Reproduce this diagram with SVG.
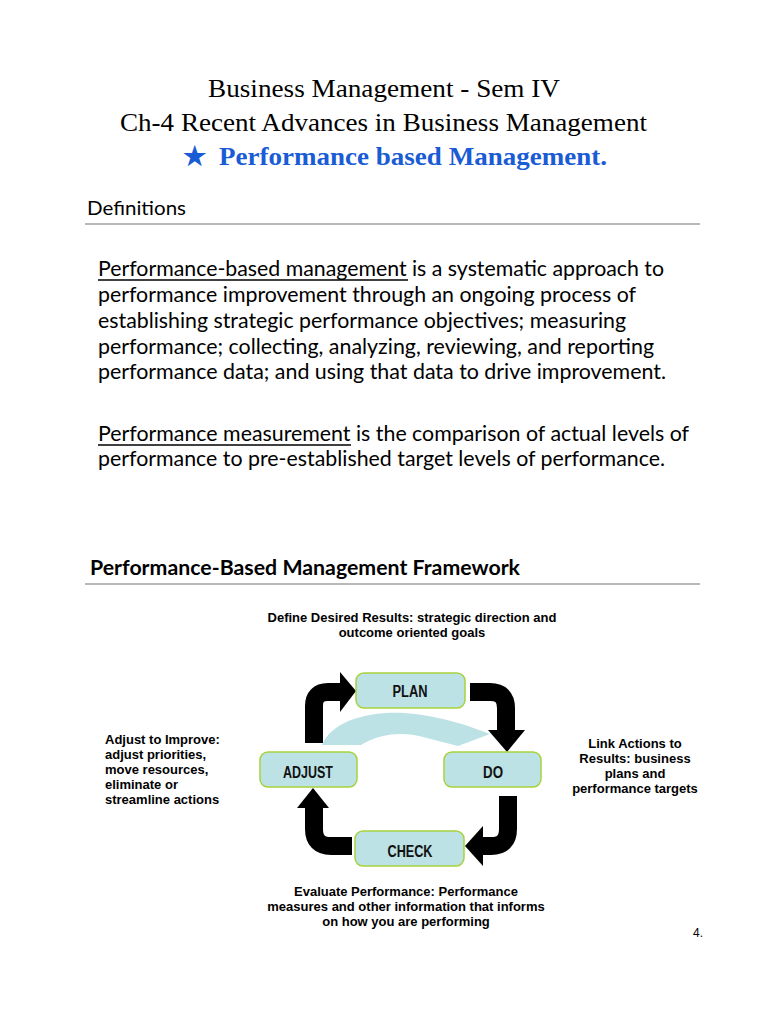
<svg xmlns="http://www.w3.org/2000/svg" width="768" height="1024" viewBox="0 0 768 1024">
<defs>
<style>
.title{font-family:"Liberation Serif","Times New Roman",serif;font-size:26px;fill:#000}
.blue{font-family:"Liberation Serif","Times New Roman",serif;font-size:26px;font-weight:bold;fill:#1a5bd6}
.body{font-family:Lato,"Open Sans",sans-serif;font-size:21px;fill:#000}
.head{font-family:Lato,"Open Sans",sans-serif;font-size:20px;fill:#000}
.headb{font-family:Lato,"Open Sans",sans-serif;font-size:20px;font-weight:bold;fill:#000}
.lbl{font-family:"Liberation Sans",Arial,sans-serif;font-size:13px;font-weight:bold;fill:#000}
.node rect{fill:#bce2e6;stroke:#a6d23c;stroke-width:1.5}
.node text{font-family:"Liberation Sans",Arial,sans-serif;font-size:16px;font-weight:bold;fill:#111;text-anchor:middle}
.arr{fill:none;stroke:#000;stroke-width:18}
.head-tri{fill:#000}
.rule{stroke:#a0a0a0;stroke-width:1.5}
</style>
</defs>
<rect width="768" height="1024" fill="#fff"/>

<g id="titles">
<text class="title" x="208" y="97" textLength="352" lengthAdjust="spacingAndGlyphs">Business Management - Sem IV</text>
<text class="title" x="120" y="131" textLength="527" lengthAdjust="spacingAndGlyphs">Ch-4 Recent Advances in Business Management</text>
<text class="blue" x="183" y="165" font-family="DejaVu Sans,sans-serif">★</text>
<text class="blue" x="219" y="165" textLength="388" lengthAdjust="spacingAndGlyphs">Performance based Management.</text>
</g>

<g id="definitions">
<text class="head" x="87" y="215" textLength="99" lengthAdjust="spacingAndGlyphs">Definitions</text>
<line class="rule" x1="85" y1="224" x2="700" y2="224"/>
<text class="body" x="98" y="276" textLength="566" lengthAdjust="spacingAndGlyphs">Performance-based management is a systematic approach to</text>
<line x1="98" y1="280" x2="408" y2="280" stroke="#000" stroke-width="1.3"/>
<text class="body" x="98" y="302" textLength="538" lengthAdjust="spacingAndGlyphs">performance improvement through an ongoing process of</text>
<text class="body" x="98" y="328" textLength="528" lengthAdjust="spacingAndGlyphs">establishing strategic performance objectives; measuring</text>
<text class="body" x="98" y="354" textLength="556" lengthAdjust="spacingAndGlyphs">performance; collecting, analyzing, reviewing, and reporting</text>
<text class="body" x="98" y="379" textLength="568" lengthAdjust="spacingAndGlyphs">performance data; and using that data to drive improvement.</text>
<text class="body" x="98" y="441" textLength="591" lengthAdjust="spacingAndGlyphs">Performance measurement is the comparison of actual levels of</text>
<line x1="98" y1="445" x2="351" y2="445" stroke="#000" stroke-width="1.3"/>
<text class="body" x="98" y="466" textLength="567" lengthAdjust="spacingAndGlyphs">performance to pre-established target levels of performance.</text>
</g>

<g id="framework-heading">
<text class="headb" x="90" y="575" textLength="430" lengthAdjust="spacingAndGlyphs">Performance-Based Management Framework</text>
<line class="rule" x1="85" y1="584" x2="700" y2="584"/>
</g>

<g id="connectors">
<path id="cyan-arrow" d="M 322 745 C 332 721 368 711 405 713 C 432 715 452 721 468 726 L 490 734 L 458 746 L 423 737 C 405 732 382 732 361 745 Z" fill="#bce2e6"/>
<path class="arr" d="M 314 743 V 706 Q 314 692 328 692 H 342"/>
<polygon class="head-tri" points="340,672 356,691 340,712"/>
<path class="arr" d="M 470 692 H 490 Q 506 692 506 708 V 732"/>
<polygon class="head-tri" points="488,730 525,730 507,752"/>
<path class="arr" d="M 508 796 V 829 Q 508 846 491 846 H 481"/>
<polygon class="head-tri" points="483,826 465,846 483,866"/>
<path class="arr" d="M 352 846 H 331 Q 314 846 314 829 V 806"/>
<polygon class="head-tri" points="297,808 313,788 329,808"/>
</g>

<g id="plan" class="node">
<rect x="356" y="673" width="109" height="35" rx="8"/>
<text x="410" y="697" textLength="35" lengthAdjust="spacingAndGlyphs">PLAN</text>
</g>
<g id="do" class="node">
<rect x="444" y="752" width="97" height="35" rx="8"/>
<text x="493" y="778" textLength="20" lengthAdjust="spacingAndGlyphs">DO</text>
</g>
<g id="check" class="node">
<rect x="355" y="831" width="109" height="35" rx="8"/>
<text x="410" y="857" textLength="45" lengthAdjust="spacingAndGlyphs">CHECK</text>
</g>
<g id="adjust" class="node">
<rect x="260" y="752" width="97" height="35" rx="8"/>
<text x="308" y="778" textLength="50" lengthAdjust="spacingAndGlyphs">ADJUST</text>
</g>

<g id="label-plan" text-anchor="middle">
<text class="lbl" x="412" y="622">Define Desired Results: strategic direction and</text>
<text class="lbl" x="412" y="637">outcome oriented goals</text>
</g>
<g id="label-do" text-anchor="middle">
<text class="lbl" x="635" y="748">Link Actions to</text>
<text class="lbl" x="635" y="763">Results: business</text>
<text class="lbl" x="635" y="778">plans and</text>
<text class="lbl" x="635" y="793">performance targets</text>
</g>
<g id="label-adjust">
<text class="lbl" x="105" y="744">Adjust to Improve:</text>
<text class="lbl" x="105" y="759">adjust priorities,</text>
<text class="lbl" x="105" y="774">move resources,</text>
<text class="lbl" x="105" y="789">eliminate or</text>
<text class="lbl" x="105" y="804">streamline actions</text>
</g>
<g id="label-check" text-anchor="middle">
<text class="lbl" x="406" y="896">Evaluate Performance: Performance</text>
<text class="lbl" x="406" y="911">measures and other information that informs</text>
<text class="lbl" x="406" y="926">on how you are performing</text>
</g>
<text x="693" y="937" font-family="Liberation Sans,Arial,sans-serif" font-size="12" fill="#000">4.</text>
</svg>
